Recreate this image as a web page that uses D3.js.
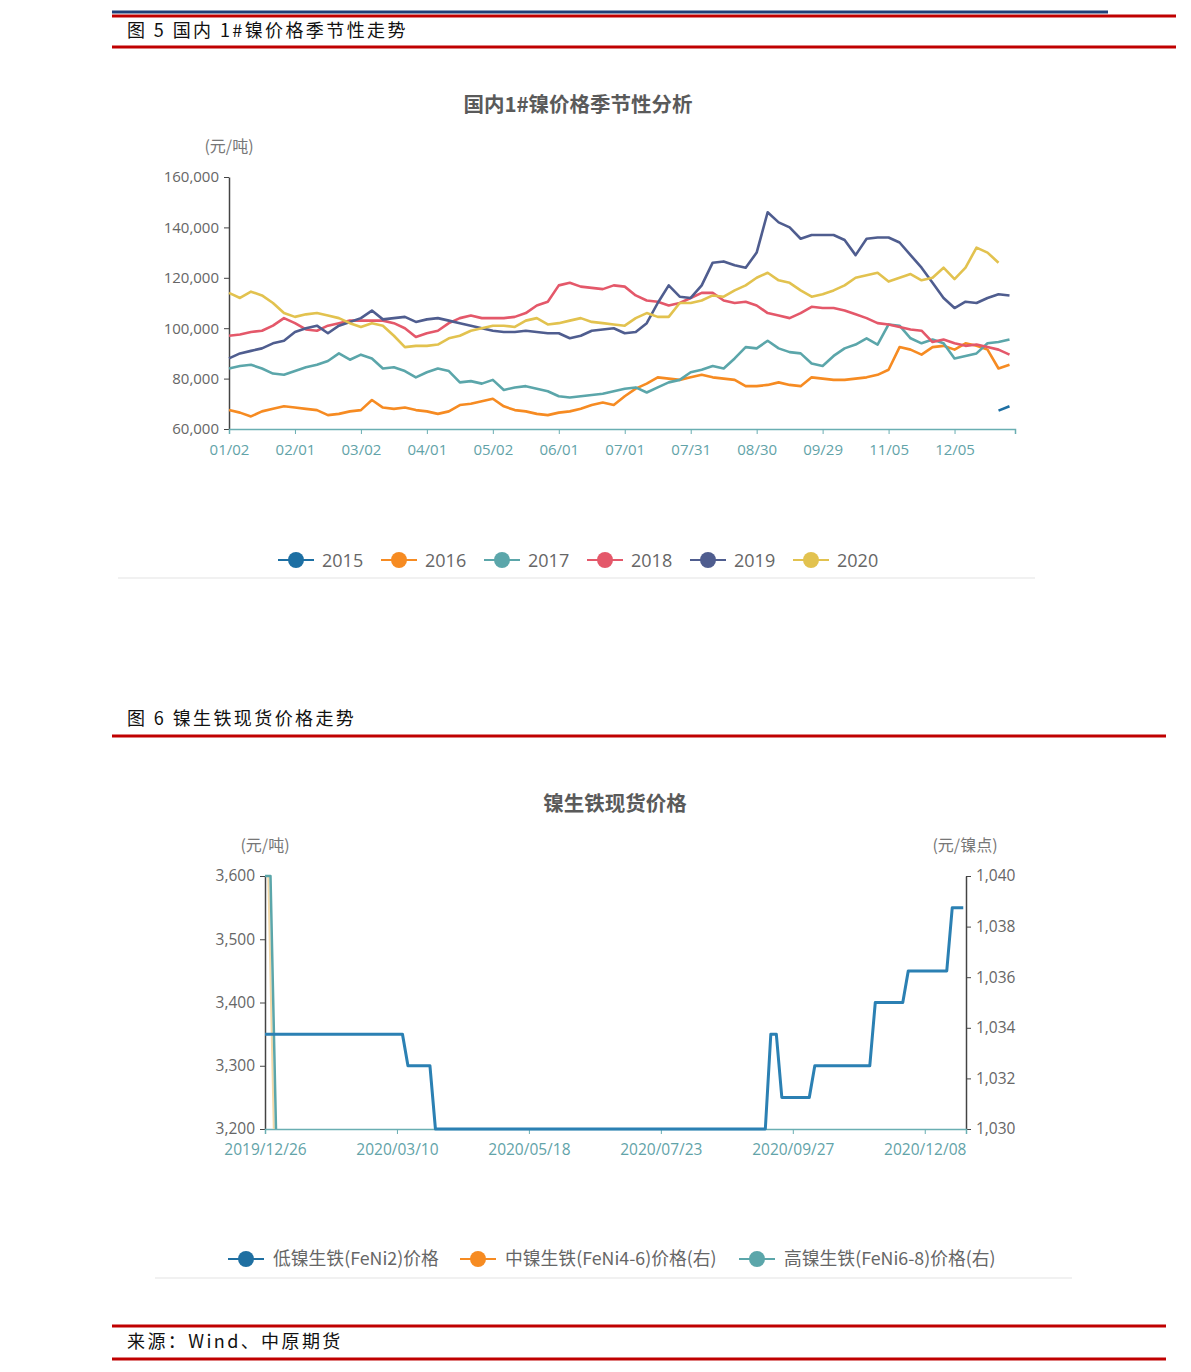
<!DOCTYPE html>
<html>
<head>
<meta charset="utf-8">
<script src="https://cdn.jsdelivr.net/npm/d3@7"></script>
<style>
  body { margin: 0; background: #fff; }
  text { font-family: "Open Sans", "Noto Sans CJK SC", sans-serif; }
  .cjk { font-family: "Noto Sans CJK SC", sans-serif; }
</style>
</head>
<body>
<div id="container"></div>
<script>
// ---- chart 1 data (thousand yuan/ton, one sample per ~5 trading days) ----
var seasonTicks = ["01/02","02/01","03/02","04/01","05/02","06/01","07/01","07/31","08/30","09/29","11/05","12/05"];
var years = ["2015","2016","2017","2018","2019","2020"];
var yearColors = ["#1d6fa3","#f68b22","#5ba6aa","#e4586a","#4f5d8f","#e2c24f"];

var s2015 = [null,null,null,null,null,null,null,null,null,null,null,null,null,null,null,null,null,null,null,null,null,null,null,null,null,null,null,null,null,null,null,null,null,null,null,null,null,null,null,null,null,null,null,null,null,null,null,null,null,null,null,null,null,null,null,null,null,null,null,null,null,null,null,null,null,null,null,null,null,null,67.3,69];
var s2016 = [67.5,66.5,65,67,68,69,68.5,68,67.5,65.5,66,67,67.5,71.5,68.5,68,68.5,67.5,67,66,67,69.5,70,71,72,69,67.5,67,66,65.5,66.5,67,68,69.5,70.5,69.5,73,76,78,80.5,80,79.5,80.5,81.5,80.5,80,79.5,77,77,77.5,78.5,77.5,77,80.5,80,79.5,79.5,80,80.5,81.5,83.5,92.5,91.5,89.5,92.5,93,91.5,94,93,91.5,84,85.5];
var s2017 = [84,85,85.5,84,82,81.5,83,84.5,85.5,87,90,87.5,89.5,88,84,84.5,83,80.5,82.5,84,83,78.5,79,78,79.5,75.5,76.5,77,76,75,73,72.5,73,73.5,74,75,76,76.5,74.5,76.5,78.5,79.5,82.5,83.5,85,84,88,92.5,92,95,92,90.5,90,86,85,89,92,93.5,96,93.5,101.5,101,96,94,95.5,94,88,89,90,94,94.5,95.5];
var s2018 = [97,97.5,98.5,99,101,104,102,99.5,99,101,102,103,103,103,103,102,100,96.5,98,99,102,104,105,104,104,104,104.5,106,109,110.5,117,118,116.5,116,115.5,117,116.5,113,111,110.5,109,110,112,114,114,111,110,110.5,109,106,105,104,106,108.5,108,108,107,105.5,104,102,101.5,100.5,99.5,99,94.5,95.5,94,93,93.5,92.5,91.5,89.5];
var s2019 = [88,90,91,92,94,95,98.5,100,101,98,101,102.5,104,107,103.5,104,104.5,102.5,103.5,104,103,102,101,100,99,98.5,98.5,99,98.5,98,98,96,97,99,99.5,100,98,98.5,102,110,117,112.5,112,117,126,126.5,125,124,130,146,142,140,135.5,137,137,137,135,129,135.5,136,136,134,129,124,118,112,108,110.5,110,112,113.5,113];
var s2020 = [114,112,114.5,113,110,106,104.5,105.5,106,105,104,102,100.5,102,101,97,92.5,93,93,93.5,96,97,99,100,101,101,100.5,103,104,101.5,102,103,104,102.5,102,101.5,101,104,106,104.5,104.5,110,110,111,113,112.5,115,117,120,122,119,118,115,112.5,113.5,115,117,120,121,122,118.5,120,121.5,119,120,124,119.5,124,132,130,126,null];
var seasonSeries = [s2015, s2016, s2017, s2018, s2019, s2020];
var seasonYTicks = [60,80,100,120,140,160];

// ---- chart 2 data (breakpoints: sample index, value) ----
var pigTicks = ["2019/12/26","2020/03/10","2020/05/18","2020/07/23","2020/09/27","2020/12/08"];
var pigNames = ["低镍生铁(FeNi2)价格","中镍生铁(FeNi4-6)价格(右)","高镍生铁(FeNi6-8)价格(右)"];
var pigColors = ["#1f6fa1","#f68b22","#5ba6aa"];
var lowIdx = [0,25,26,30,31,91,92,93,94,99,100,110,111,116,117,124,125,127];
var lowVal = [3350,3350,3300,3300,3200,3200,3350,3350,3250,3250,3300,3300,3400,3400,3450,3450,3550,3550];
var midIdx = [0,0.6,1.6];
var midVal = [1040,1040,1030];
var highIdx = [0,1,2];
var highVal = [1040,1040,1030];
var pigLeftTicks = [3200,3300,3400,3500,3600];
var pigRightTicks = [1030,1032,1034,1036,1038,1040];

var W = 1191, H = 1372;
var svg = d3.select("#container").append("svg")
  .attr("width", W).attr("height", H)
  .style("background", "#fff");

// ---------- report frame ----------
function hline(y, x1, x2, color, w) {
  svg.append("line").attr("x1", x1).attr("x2", x2).attr("y1", y).attr("y2", y)
    .attr("stroke", color).attr("stroke-width", w);
}
hline(12, 112, 1108, "#1f3f78", 3);
hline(16, 112, 1176, "#c00000", 3);
hline(47, 112, 1176, "#c00000", 3);
hline(736, 112, 1166, "#c00000", 3);
hline(1326, 112, 1166, "#c00000", 3);
hline(1359, 112, 1166, "#c00000", 3);

function caption(x, y, t) {
  svg.append("text").attr("class", "cjk").attr("x", x).attr("y", y)
    .attr("font-size", 18).attr("letter-spacing", 2.4).attr("fill", "#111").text(t);
}
caption(127, 37, "图 5 国内 1#镍价格季节性走势");
caption(127, 725, "图 6 镍生铁现货价格走势");
caption(127, 1348, "来源：Wind、中原期货");

// ---------- chart 1 ----------
var x1 = d3.scaleLinear().domain([0, 71.5]).range([229, 1015]);
var y1 = d3.scaleLinear().domain([60, 160]).range([429, 177]);

svg.append("text").attr("class", "cjk").attr("x", 578).attr("y", 112)
  .attr("text-anchor", "middle").attr("font-size", 20.5).attr("font-weight", "bold")
  .attr("fill", "#5a5a5a").text("国内1#镍价格季节性分析");
svg.append("text").attr("class", "cjk").attr("x", 229).attr("y", 152)
  .attr("text-anchor", "middle").attr("font-size", 16).attr("fill", "#777").text("(元/吨)");

var yAx1 = svg.append("g").attr("transform", "translate(229,0)")
  .call(d3.axisLeft(y1).tickValues(seasonYTicks).tickSize(5).tickSizeOuter(0)
    .tickFormat(function(d) { return d3.format(",")(d * 1000); }));
yAx1.select(".domain").attr("stroke", "#444").attr("stroke-width", 1.5);
yAx1.selectAll(".tick line").attr("stroke", "#444");
yAx1.selectAll(".tick text").attr("font-size", 15).attr("fill", "#666").attr("font-family", "Open Sans").attr("x", -10);

var xAx1 = svg.append("g").attr("transform", "translate(0,429)")
  .call(d3.axisBottom(x1).tickValues(d3.range(0, 67, 6)).tickSize(5).tickSizeOuter(5)
    .tickFormat(function(d) { return seasonTicks[d / 6]; }));
xAx1.select(".domain").attr("stroke", "#6aaeb2").attr("stroke-width", 1.5);
xAx1.selectAll(".tick line").attr("stroke", "#6aaeb2");
xAx1.selectAll(".tick text").attr("font-size", 15).attr("fill", "#62a3a8").attr("font-family", "Open Sans").attr("y", 15);

var line1 = d3.line()
  .defined(function(d) { return d != null; })
  .x(function(d, i) { return x1(i); })
  .y(function(d) { return y1(d); });

seasonSeries.forEach(function(s, k) {
  svg.append("path").datum(s)
    .attr("fill", "none").attr("stroke", yearColors[k]).attr("stroke-width", 2.6)
    .attr("stroke-linejoin", "round").attr("d", line1);
});

// legend 1
var lg1 = svg.append("g");
var lgx1 = [296, 399, 502, 605, 708, 811];
years.forEach(function(y, k) {
  var g = lg1.append("g").attr("transform", "translate(" + lgx1[k] + ",560)");
  g.append("line").attr("x1", -18).attr("x2", 18).attr("stroke", yearColors[k]).attr("stroke-width", 2);
  g.append("circle").attr("r", 8).attr("fill", yearColors[k]);
  g.append("text").attr("x", 26).attr("y", 7).attr("font-size", 18).attr("fill", "#666").text(y);
});
hline(578, 118, 1035, "#ececec", 1.5);

// ---------- chart 2 ----------
var x2 = d3.scaleLinear().domain([0, 127.5]).range([265, 966]);
var yL = d3.scaleLinear().domain([3200, 3600]).range([1129, 876]);
var yR = d3.scaleLinear().domain([1030, 1040]).range([1129, 876]);

svg.append("text").attr("class", "cjk").attr("x", 615).attr("y", 811)
  .attr("text-anchor", "middle").attr("font-size", 20.5).attr("font-weight", "bold")
  .attr("fill", "#5a5a5a").text("镍生铁现货价格");
svg.append("text").attr("class", "cjk").attr("x", 265).attr("y", 851)
  .attr("text-anchor", "middle").attr("font-size", 16).attr("fill", "#777").text("(元/吨)");
svg.append("text").attr("class", "cjk").attr("x", 965).attr("y", 851)
  .attr("text-anchor", "middle").attr("font-size", 16).attr("fill", "#777").text("(元/镍点)");

var lAx = svg.append("g").attr("transform", "translate(265,0)")
  .call(d3.axisLeft(yL).tickValues(pigLeftTicks).tickSize(5).tickSizeOuter(0)
    .tickFormat(d3.format(",")));
var rAx = svg.append("g").attr("transform", "translate(966,0)")
  .call(d3.axisRight(yR).tickValues(pigRightTicks).tickSize(5).tickSizeOuter(0)
    .tickFormat(d3.format(",")));
[lAx, rAx].forEach(function(a) {
  a.select(".domain").attr("stroke", "#444").attr("stroke-width", 1.5);
  a.selectAll(".tick line").attr("stroke", "#444");
  a.selectAll(".tick text").attr("font-size", 15.5).attr("fill", "#666").attr("font-family", "Open Sans");
});
lAx.selectAll(".tick text").attr("x", -10);
rAx.selectAll(".tick text").attr("x", 10);

var xAx2 = svg.append("g").attr("transform", "translate(0,1129)")
  .call(d3.axisBottom(x2).tickValues(d3.range(0, 121, 24)).tickSize(5).tickSizeOuter(5)
    .tickFormat(function(d) { return pigTicks[d / 24]; }));
xAx2.select(".domain").attr("stroke", "#6aaeb2").attr("stroke-width", 1.5);
xAx2.selectAll(".tick line").attr("stroke", "#6aaeb2");
xAx2.selectAll(".tick text").attr("font-size", 15.5).attr("fill", "#62a3a8").attr("font-family", "Open Sans").attr("y", 15);

function seriesPath(idx, val, yScale, color, w) {
  var pts = idx.map(function(d, i) { return [d, val[i]]; });
  svg.append("path").datum(pts)
    .attr("fill", "none").attr("stroke", color).attr("stroke-width", w)
    .attr("stroke-linejoin", "round")
    .attr("d", d3.line().x(function(d) { return x2(d[0]); }).y(function(d) { return yScale(d[1]); }));
}
seriesPath(midIdx, midVal, yR, "#f3d9a8", 2);
seriesPath(highIdx, highVal, yR, pigColors[2], 2.5);
seriesPath(lowIdx, lowVal, yL, "#2b80b3", 3);

// legend 2
var lgx2 = [246, 478, 757];
pigNames.forEach(function(n, k) {
  var g = svg.append("g").attr("transform", "translate(" + lgx2[k] + ",1259)");
  g.append("line").attr("x1", -18).attr("x2", 18).attr("stroke", pigColors[k]).attr("stroke-width", 2);
  g.append("circle").attr("r", 8).attr("fill", pigColors[k]);
  g.append("text").attr("class", "cjk").attr("x", 27).attr("y", 6).attr("font-size", 17.8)
    .attr("fill", "#666").text(n);
});
hline(1278, 155, 1072, "#ececec", 1.5);
</script>
</body>
</html>
